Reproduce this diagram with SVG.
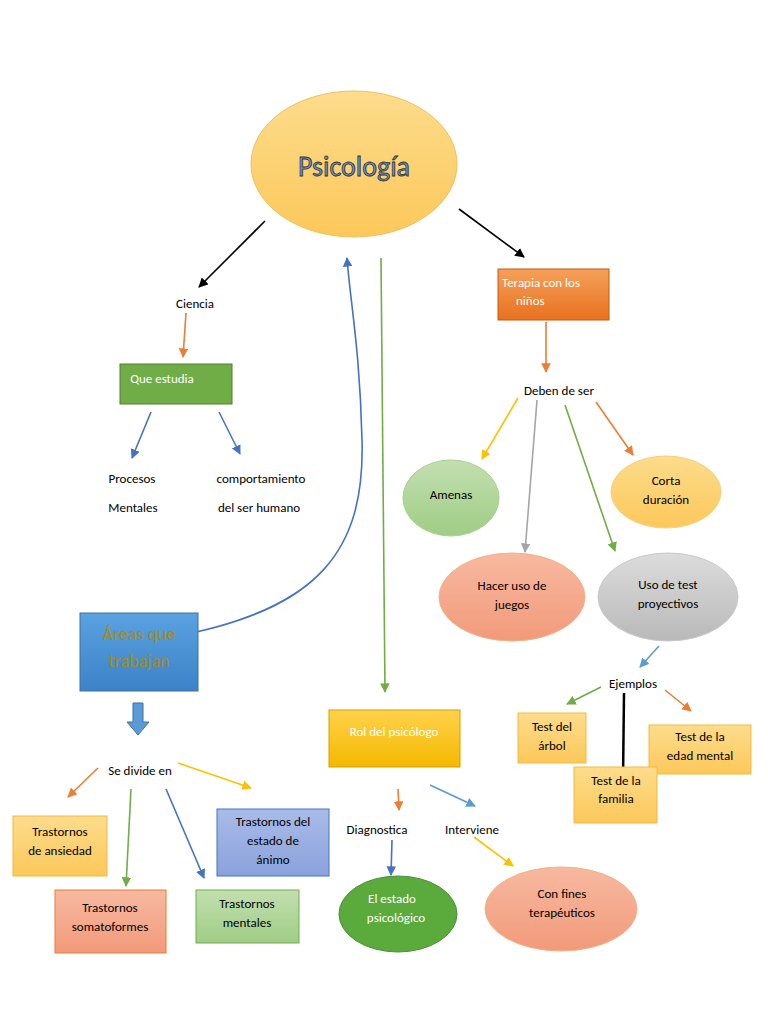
<svg xmlns="http://www.w3.org/2000/svg" width="768" height="1024" viewBox="0 0 768 1024">
<defs>
<style>
text{font-family:Carlito,"Liberation Sans",Arial,sans-serif;font-size:13px;fill:#000;text-anchor:middle}
.w{fill:#fff}
.c{fill:none;stroke-width:1.6}
</style>
<marker id="a" viewBox="0 0 10 10" refX="9" refY="5" markerWidth="6" markerHeight="6" orient="auto-start-reverse"><path d="M0,0L10,5L0,10z" fill="context-stroke"/></marker>
<linearGradient id="gy" x1="0" y1="0" x2="0" y2="1"><stop offset="0" stop-color="#fddc8c"/><stop offset="1" stop-color="#fcc85a"/></linearGradient>
<linearGradient id="go" x1="0" y1="0" x2="0" y2="1"><stop offset="0" stop-color="#f5a05a"/><stop offset="1" stop-color="#e8711e"/></linearGradient>
<linearGradient id="gs" x1="0" y1="0" x2="0" y2="1"><stop offset="0" stop-color="#f7b9a0"/><stop offset="1" stop-color="#f29a7a"/></linearGradient>
<linearGradient id="gg" x1="0" y1="0" x2="0" y2="1"><stop offset="0" stop-color="#dcdcdc"/><stop offset="1" stop-color="#b9b9b9"/></linearGradient>
<linearGradient id="glg" x1="0" y1="0" x2="0" y2="1"><stop offset="0" stop-color="#c2dfb0"/><stop offset="1" stop-color="#9fcd85"/></linearGradient>
<linearGradient id="gb" x1="0" y1="0" x2="0" y2="1"><stop offset="0" stop-color="#5aa2e0"/><stop offset="1" stop-color="#3c82c8"/></linearGradient>
<linearGradient id="gyy" x1="0" y1="0" x2="0" y2="1"><stop offset="0" stop-color="#ffd24a"/><stop offset="1" stop-color="#f5b800"/></linearGradient>
<linearGradient id="gl" x1="0" y1="0" x2="0" y2="1"><stop offset="0" stop-color="#a9bbe8"/><stop offset="1" stop-color="#8aa2dc"/></linearGradient>
</defs>
<rect width="768" height="1024" fill="#fff"/>
<g id="connectors">
<line class="c" x1="265" y1="221" x2="199" y2="287" stroke="#000" marker-end="url(#a)"/>
<line class="c" x1="459" y1="209" x2="524" y2="257" stroke="#000" marker-end="url(#a)"/>
<line class="c" x1="186" y1="313" x2="183" y2="357" stroke="#ed7d31" marker-end="url(#a)"/>
<line class="c" x1="151" y1="412" x2="132" y2="458" stroke="#4472c4" marker-end="url(#a)"/>
<line class="c" x1="219" y1="412" x2="240" y2="454" stroke="#4472c4" marker-end="url(#a)"/>
<path class="c" d="M172,637 C320,610 365,550 362,440 C360,350 350,300 347,258" stroke="#4472c4" marker-end="url(#a)"/>
<line class="c" x1="381" y1="258" x2="385" y2="692" stroke="#70ad47" marker-end="url(#a)"/>
<line class="c" x1="546" y1="322" x2="546" y2="372" stroke="#ed7d31" marker-end="url(#a)"/>
<line class="c" x1="518" y1="398" x2="482" y2="459" stroke="#ffc000" marker-end="url(#a)"/>
<line class="c" x1="537" y1="400" x2="525" y2="552" stroke="#a5a5a5" marker-end="url(#a)"/>
<line class="c" x1="565" y1="405" x2="615" y2="551" stroke="#70ad47" marker-end="url(#a)"/>
<line class="c" x1="596" y1="402" x2="633" y2="455" stroke="#ed7d31" marker-end="url(#a)"/>
<line class="c" x1="659" y1="646" x2="640" y2="667" stroke="#5b9bd5" marker-end="url(#a)"/>
<line class="c" x1="601" y1="687" x2="567" y2="704" stroke="#70ad47" marker-end="url(#a)"/>
<line class="c" x1="665" y1="690" x2="691" y2="711" stroke="#ed7d31" marker-end="url(#a)"/>
<line x1="624" y1="693" x2="623" y2="781" stroke="#000" stroke-width="2.5"/>
<circle cx="623" cy="779" r="3"/>
<line class="c" x1="98" y1="768" x2="68" y2="797" stroke="#ed7d31" marker-end="url(#a)"/>
<line class="c" x1="131" y1="789" x2="126" y2="886" stroke="#70ad47" marker-end="url(#a)"/>
<line class="c" x1="166" y1="789" x2="204" y2="878" stroke="#4472c4" marker-end="url(#a)"/>
<line class="c" x1="178" y1="763" x2="251" y2="788" stroke="#ffc000" marker-end="url(#a)"/>
<line class="c" x1="398" y1="789" x2="399" y2="810" stroke="#ed7d31" marker-end="url(#a)"/>
<line class="c" x1="430" y1="785" x2="475" y2="806" stroke="#5b9bd5" marker-end="url(#a)"/>
<line class="c" x1="392" y1="840" x2="391" y2="875" stroke="#4472c4" marker-end="url(#a)"/>
<line class="c" x1="474" y1="837" x2="513" y2="866" stroke="#ffc000" marker-end="url(#a)"/>
<path d="M133,703h10v19h6l-11,13l-11,-13h6z" fill="#5b9bd5" stroke="#41719c"/>
</g>
<g id="psicologia"><ellipse cx="354" cy="164" rx="103" ry="73" fill="url(#gy)" stroke="#f0c060"/><text x="354" y="176" style="font-size:28px;fill:#6b8ec7;stroke:#333;stroke-width:0.8">Psicología</text></g>
<g id="ciencia"><text x="195" y="308">Ciencia</text></g>
<g id="que-estudia"><rect x="120" y="364" width="112" height="40" fill="#70ad47" stroke="#507e32"/><text class="w" x="162" y="383">Que estudia</text></g>
<g id="procesos"><text x="132" y="483">Procesos</text><text x="133" y="512">Mentales</text></g>
<g id="comportamiento"><text x="261" y="483">comportamiento</text><text x="259" y="512">del ser humano</text></g>
<g id="terapia"><rect x="498" y="269" width="111" height="51" fill="url(#go)" stroke="#c55a11"/><text class="w" x="541" y="287">Terapia con los</text><text class="w" x="516" y="305" style="text-anchor:start">niños</text></g>
<g id="deben"><text x="559" y="395">Deben de ser</text></g>
<g id="amenas"><ellipse cx="451" cy="498" rx="48" ry="38" fill="url(#glg)" stroke="#a9d18e"/><text x="451" y="499">Amenas</text></g>
<g id="corta"><ellipse cx="666" cy="492" rx="55" ry="36" fill="url(#gy)" stroke="#f5d080"/><text x="666" y="485">Corta</text><text x="666" y="504">duración</text></g>
<g id="juegos"><ellipse cx="512" cy="597" rx="73" ry="44" fill="url(#gs)" stroke="#f4b183"/><text x="512" y="590">Hacer uso de</text><text x="512" y="609">juegos</text></g>
<g id="test"><ellipse cx="668" cy="597" rx="70" ry="44" fill="url(#gg)" stroke="#c9c9c9"/><text x="668" y="589">Uso de test</text><text x="668" y="608">proyectivos</text></g>
<g id="ejemplos"><text x="633" y="688">Ejemplos</text></g>
<g id="arbol"><rect x="518" y="713" width="68" height="50" fill="url(#gy)" stroke="#f4b942"/><text x="552" y="731">Test del</text><text x="552" y="750">árbol</text></g>
<g id="edad"><rect x="649" y="725" width="102" height="49" fill="url(#gy)" stroke="#f4b942"/><text x="700" y="741">Test de la</text><text x="700" y="760">edad mental</text></g>
<g id="familia"><rect x="574" y="767" width="83" height="56" fill="url(#gy)" stroke="#f4b942"/><text x="616" y="785">Test de la</text><text x="616" y="803">familia</text></g>
<g id="areas"><rect x="80" y="613" width="118" height="78" fill="url(#gb)" stroke="#41719c"/><text x="139" y="640" style="font-size:18px;fill:#a58a1e">Áreas que</text><text x="139" y="667" style="font-size:18px;fill:#a58a1e">trabajan</text></g>
<g id="divide"><text x="140" y="775">Se divide en</text></g>
<g id="ansiedad"><rect x="13" y="816" width="94" height="60" fill="url(#gy)" stroke="#f4b942"/><text x="60" y="836">Trastornos</text><text x="60" y="855">de ansiedad</text></g>
<g id="somato"><rect x="55" y="890" width="111" height="63" fill="url(#gs)" stroke="#ed7d31"/><text x="110" y="912">Trastornos</text><text x="110" y="931">somatoformes</text></g>
<g id="mentales"><rect x="196" y="890" width="103" height="53" fill="url(#glg)" stroke="#70ad47"/><text x="247" y="908">Trastornos</text><text x="247" y="927">mentales</text></g>
<g id="animo"><rect x="217" y="809" width="112" height="67" fill="url(#gl)" stroke="#4472c4"/><text x="273" y="826">Trastornos del</text><text x="273" y="845">estado de</text><text x="273" y="864">ánimo</text></g>
<g id="rol"><rect x="329" y="710" width="131" height="57" fill="url(#gyy)" stroke="#d4a000"/><text class="w" x="394" y="736">Rol del psicólogo</text></g>
<g id="diagnostica"><text x="377" y="834">Diagnostica</text></g>
<g id="interviene"><text x="472" y="834">Interviene</text></g>
<g id="estado"><ellipse cx="398" cy="914" rx="59" ry="38" fill="#5aaa3c" stroke="#4e8f36"/><text class="w" x="392" y="903">El estado</text><text class="w" x="396" y="922">psicológico</text></g>
<g id="fines"><ellipse cx="561" cy="909" rx="76" ry="42" fill="url(#gs)" stroke="#f4b183"/><text x="562" y="898">Con fines</text><text x="562" y="917">terapéuticos</text></g>
</svg>
